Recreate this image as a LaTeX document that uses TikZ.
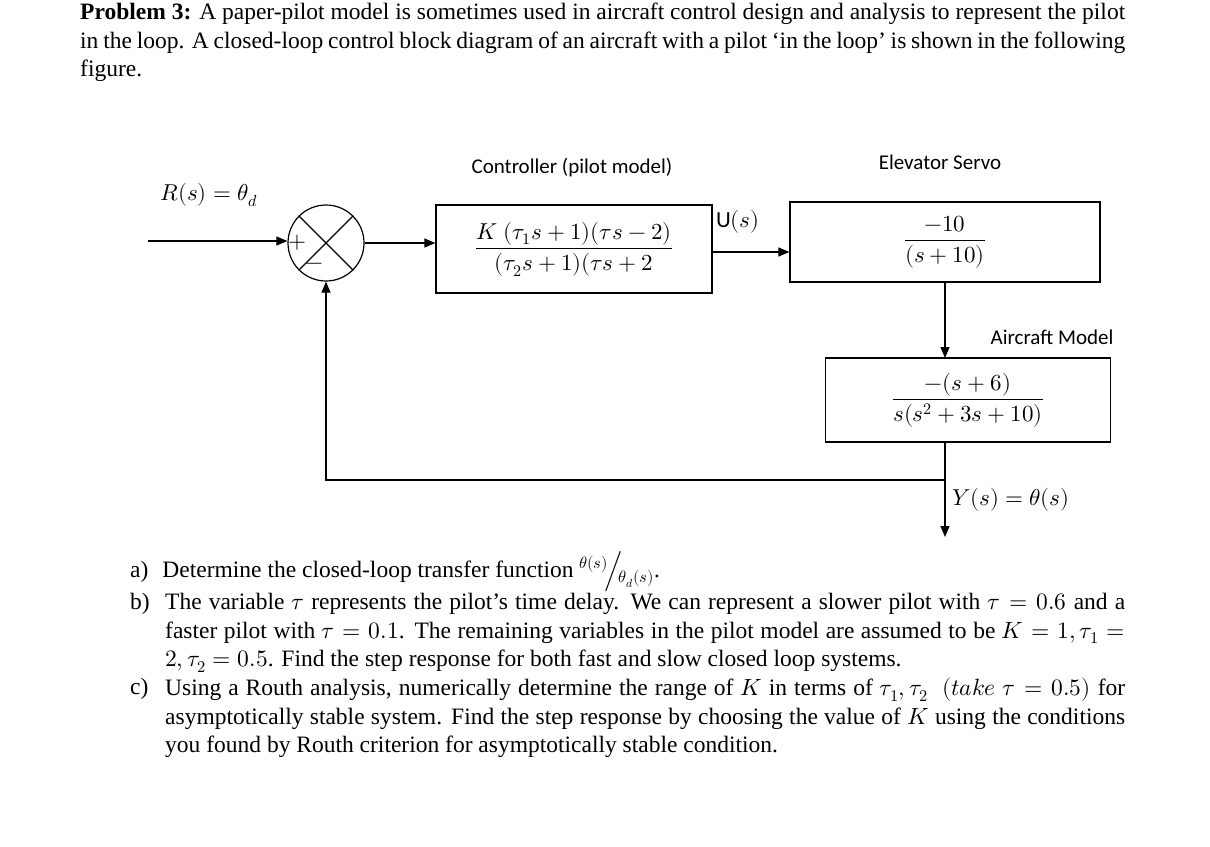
\documentclass[tikz,border=0pt]{standalone}
\usepackage{amsmath}
\usepackage{fontspec}
\usepackage{unicode-math}
\setmainfont{Liberation Serif}
\setmathfont{Latin Modern Math}
\newfontfamily\carl{Carlito}
\usetikzlibrary{arrows.meta}
\begin{document}
\begin{tikzpicture}[x=1pt,y=-1pt,
  blk/.style={draw,line width=1.2pt,inner sep=0pt},
  lbl/.style={font=\fontsize{21}{25}\selectfont\carl,inner sep=0pt},
  mth/.style={font=\fontsize{23}{27}\selectfont,inner sep=0pt},
  arr/.style={-{Triangle[length=11pt,width=9pt]},line width=1.2pt},
  ln/.style={line width=1.2pt},
  txt/.style={inner sep=0pt,font=\fontsize{23.5}{28.6}\selectfont}]
\useasboundingbox (0,0) rectangle (1210,846);
\node[txt,anchor=north west,text width=1045pt,align=justify] (p) at (80,3)
 {\textbf{Problem 3:} A paper-pilot model is sometimes used in aircraft control design and analysis to represent the pilot in the loop. A closed-loop control block diagram of an aircraft with a pilot `in the loop' is shown in the following figure.};
% diagram
\node[lbl] (tc) at (572,168) {Controller (pilot model)};
\node[lbl] (te) at (940,162) {Elevator Servo};
\node[lbl] (ta) at (1052,337) {Aircraft Model};
\node[mth,anchor=west] (rs) at (160,195) {$R(s)=\theta_d$};
\coordinate (in) at (148,241);
\node[draw,circle,line width=1.2pt,minimum size=76pt,inner sep=0pt] (sum) at (326,243) {};
\draw[ln] (sum.north west)--(sum.south east) (sum.north east)--(sum.south west);
\node[mth] (plus) at (297,243) {$+$};
\node[mth] (minus) at (314,266) {$-$};
\node[blk,minimum width=276pt,minimum height=88pt] (ctl) at (574,249) {};
\node[mth] (cn) at (574,249) {$\dfrac{K\;(\tau_1 s+1)(\tau s-2)}{(\tau_2 s+1)(\tau s+2}$};
\node[mth,anchor=west] (us) at (716,222) {{\carl U}$(s)$};
\node[blk,minimum width=310pt,minimum height=80pt] (srv) at (945,242) {};
\node[mth] (sn) at (945,242) {$\dfrac{-10}{(s+10)}$};
\node[blk,minimum width=285pt,minimum height=84pt] (ac) at (968,400) {};
\node[mth] (an) at (968,400) {$\dfrac{-(s+6)}{s(s^2+3s+10)}$};
\coordinate (br) at (945,480);
\coordinate (out) at (945,537);
\node[mth,anchor=west] (ys) at (952,500) {$Y(s)=\theta(s)$};
\draw[arr] (in) -- (sum.west|-in);
\draw[arr] (sum.east) -- (ctl.west|-sum.east);
\draw[arr] (ctl.east|-0,252) -- (srv.west|-0,252);
\draw[arr] (srv.south) -- (945,358);
\draw[arr] (945,442) -- (out);
\draw[arr] (br) -- (326,480) -- (sum.south);
% questions
\node[txt,anchor=north west] (qa) at (130,550)
 {a)\hspace{14pt}Determine the closed-loop transfer function ${}^{\theta(s)}\!\Big/\!{}_{\theta_d(s)}$.};
\node[txt,anchor=north west] (qbl) at (130,593) {b)};
\node[txt,anchor=north west,text width=960pt,align=justify] (qb) at (165,593)
 {The variable $\tau$ represents the pilot's time delay. We can represent a slower pilot with $\tau=0.6$ and a faster pilot with $\tau=0.1$. The remaining variables in the pilot model are assumed to be $K=1,\tau_1=2,\tau_2=0.5$. Find the step response for both fast and slow closed loop systems.};
\node[txt,anchor=north west] (qcl) at (130,678) {c)};
\node[txt,anchor=north west,text width=960pt,align=justify] (qc) at (165,678)
 {Using a Routh analysis, numerically determine the range of $K$ in terms of $\tau_1,\tau_2$ \ $(take\ \tau=0.5)$ for asymptotically stable system. Find the step response by choosing the value of $K$ using the conditions you found by Routh criterion for asymptotically stable condition.};
\end{tikzpicture}
\end{document}
